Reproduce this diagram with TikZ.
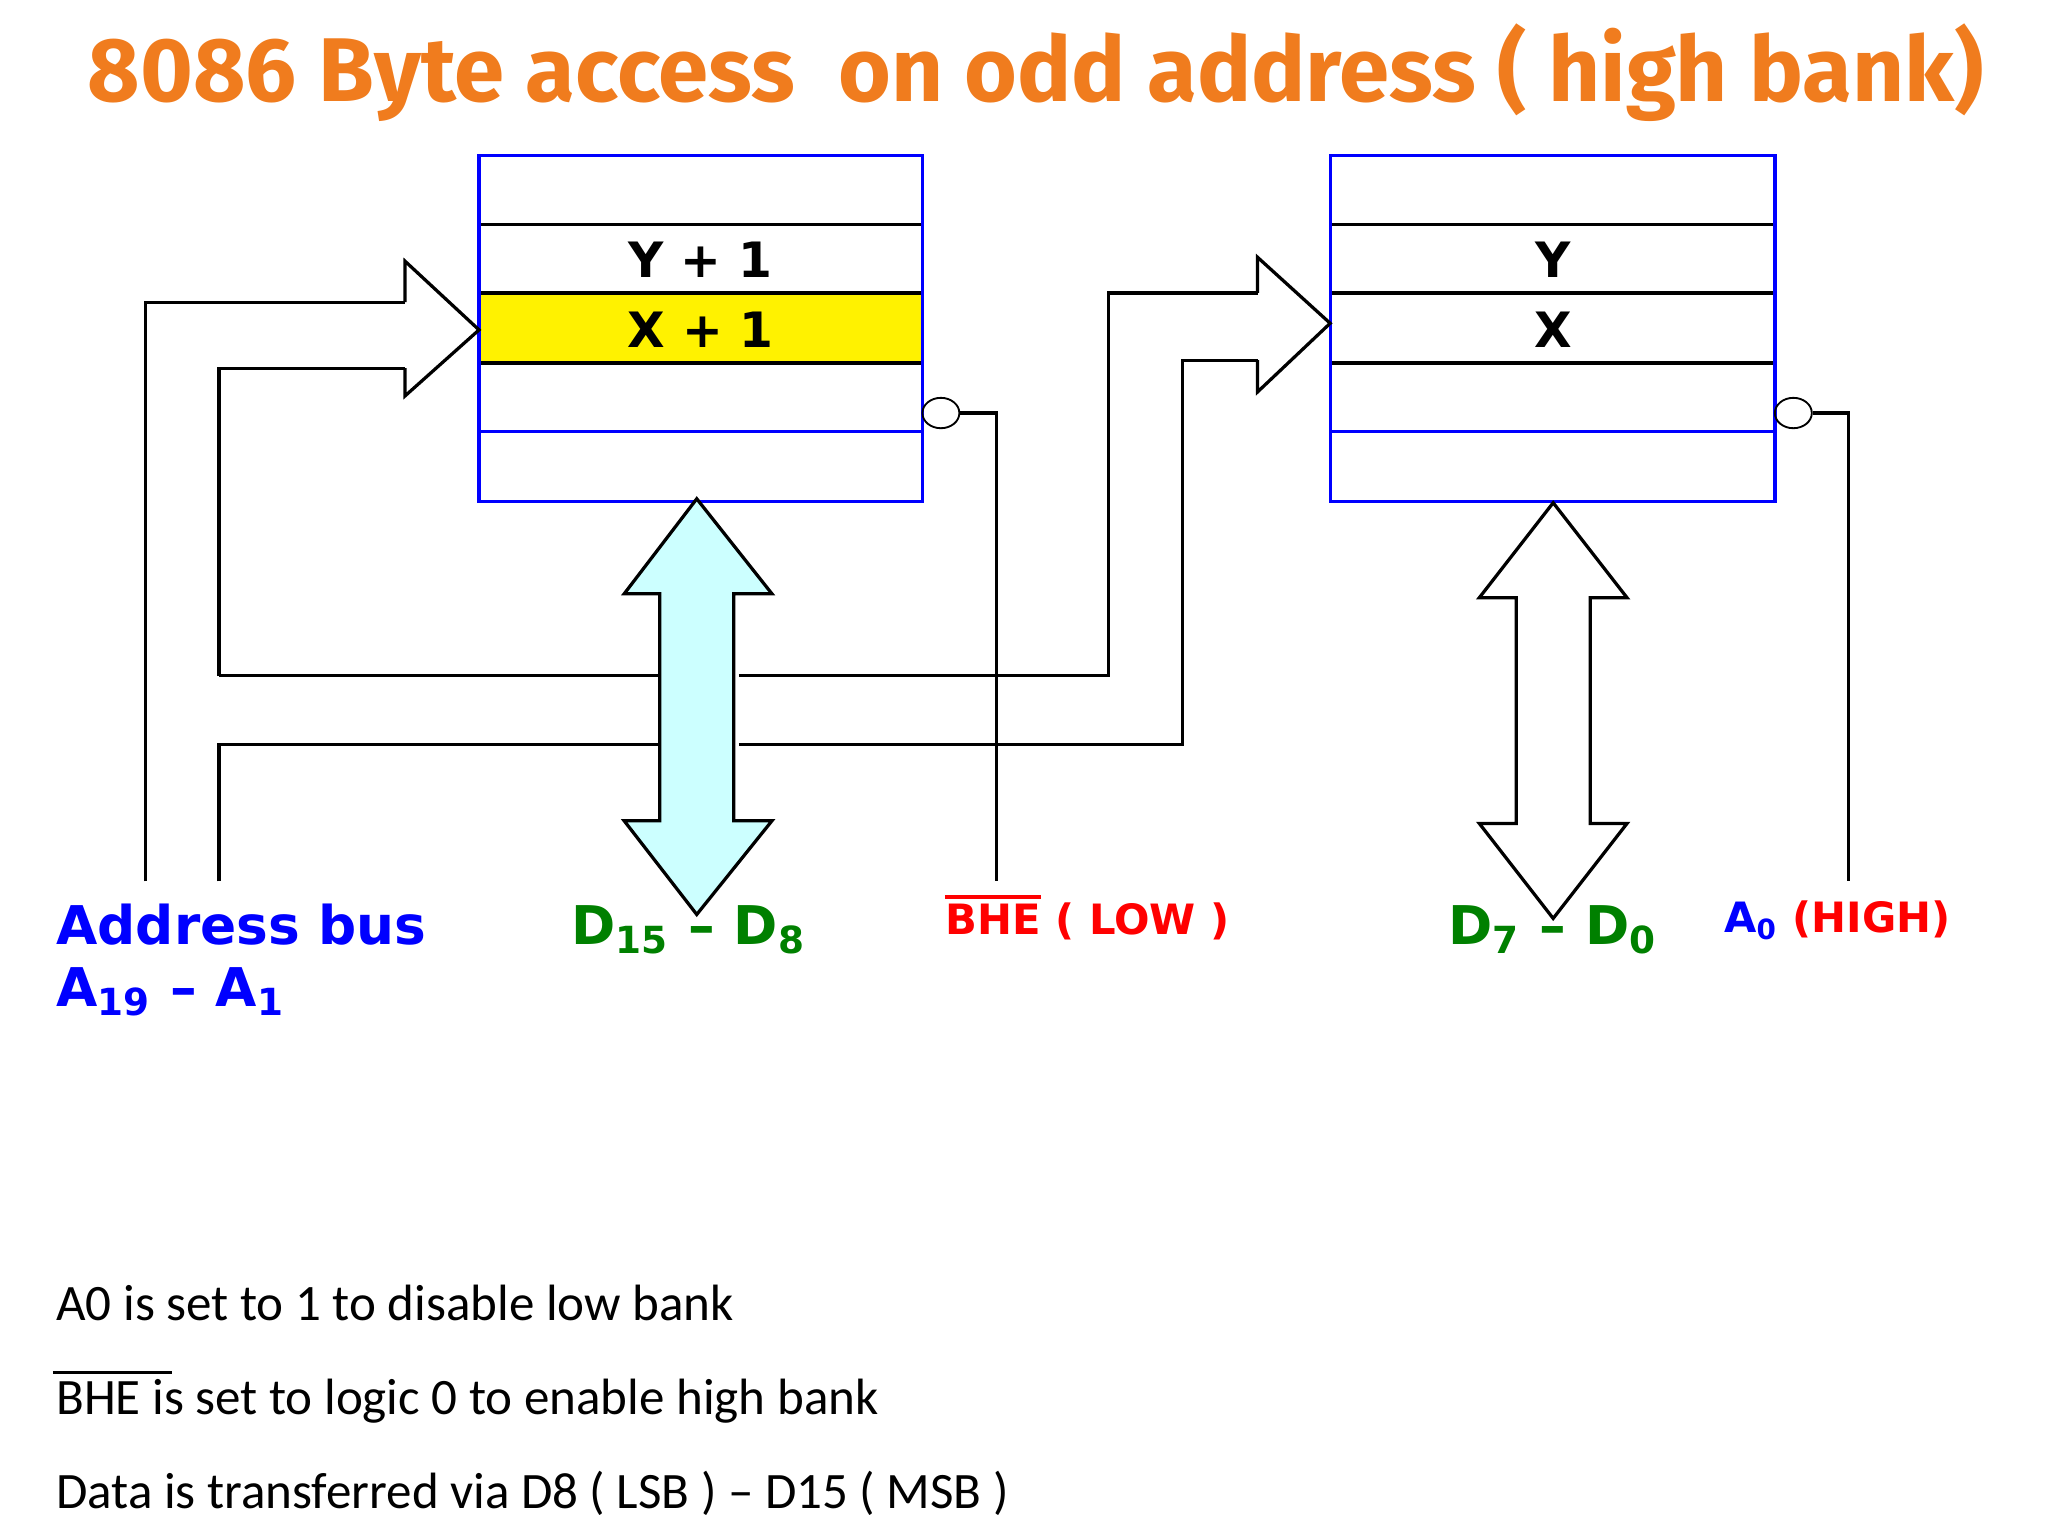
\documentclass[tikz,border=0pt]{standalone}
\usepackage{fontspec}
\setmainfont{Carlito}
\newfontfamily\lblfont{DejaVu Sans}
\newfontfamily\ttlfont{Fira Sans}
\usetikzlibrary{positioning,shapes.geometric}
\definecolor{ttlorange}{HTML}{F07C1E}
\definecolor{lblgreen}{HTML}{008000}
\definecolor{busblue}{HTML}{0000FF}
\definecolor{buscyan}{HTML}{CCFFFF}
\tikzset{
  wire/.style={black, line width=0.7pt},
  cell/.style={font=\lblfont\bfseries\fontsize{10.5}{12}\selectfont},
  lbl/.style={font=\lblfont\bfseries\fontsize{11.5}{14}\selectfont, anchor=base west, inner sep=0pt},
  note/.style={font=\fontsize{11}{13}\selectfont, anchor=base west, inner sep=0pt},
  bus/.style={draw=black, line width=0.7pt, line join=miter},
  sel/.style={draw, ellipse, minimum width=0.28cm, minimum height=0.23cm, inner sep=0pt},
}
\begin{document}
\begin{tikzpicture}[x=0.01cm,y=-0.01cm]
\useasboundingbox (0,0) rectangle (1552,1164);

%% title
\node[font=\ttlfont\bfseries\fontsize{19.5}{22}\selectfont, text=ttlorange] (title) at (785,55) {8086 Byte access \ on odd address ( high bank)};

%% left memory bank
\fill[yellow] (363,222) rectangle (699,275);
\draw[wire] (363,170) -- (699,170) (363,222) -- (699,222) (363,275) -- (699,275);
\draw[busblue, line width=0.7pt] (363,327) -- (699,327);
\draw[busblue, line width=0.7pt] (363,118) rectangle (699,380);
\node[cell] (y1) at (531,197) {Y + 1};
\node[cell] (x1) at (531,250) {X + 1};

%% right memory bank
\draw[wire] (1008,170) -- (1345,170) (1008,222) -- (1345,222) (1008,275) -- (1345,275);
\draw[busblue, line width=0.7pt] (1008,327) -- (1345,327);
\draw[busblue, line width=0.7pt] (1008,118) rectangle (1345,380);
\node[cell] (y0) at (1177,197) {Y};
\node[cell] (x0) at (1177,250) {X};

%% address arrows
\coordinate (la1) at (307,229);
\coordinate (la2) at (307,279);
\coordinate (ra1) at (953,222);
\coordinate (ra2) at (953,273);
\draw[wire] (la1) -- (307,198) -- (363,250) -- (307,300) -- (la2);
\draw[wire] (ra1) -- (953,195) -- (1008,245) -- (953,297) -- (ra2);

%% address wires
\coordinate (w1) at (110,668);
\coordinate (w2) at (166,668);
\draw[wire] (w1) |- (la1);
\draw[wire] (166,512) |- (la2);
\draw[wire] (166,512) -- (500,512);
\draw[wire] (560,512) -- (840,512) |- (ra1);
\draw[wire] (w2) |- (500,564);
\draw[wire] (560,564) -- (896,564) |- (ra2);

%% chip select
\node[sel] (bhe) at (713,313) {};
\node[sel] (azero) at (1359,313) {};
\coordinate (bheend) at (755,668);
\coordinate (a0end) at (1401,668);
\draw[wire] (bhe.east) -| (bheend);
\draw[wire] (azero.east) -| (a0end);

%% data buses
\draw[bus, fill=buscyan] (528,378) -- (585,450) -- (556,450) -- (556,622) -- (585,622) -- (528,693)
  -- (473,622) -- (500,622) -- (500,450) -- (473,450) -- cycle;
\draw[bus, fill=white] (1177,381) -- (1233,453) -- (1205,453) -- (1205,624) -- (1233,624) -- (1177,696)
  -- (1121,624) -- (1149,624) -- (1149,453) -- (1121,453) -- cycle;

%% labels
\node[lbl, text=busblue] (abus) at (42,716) {Address bus};
\node[lbl, text=busblue] (arange) at (42,763) {A\textsubscript{19} \textendash{} A\textsubscript{1}};
\node[lbl, text=lblgreen, anchor=base] (dhigh) at (522,716) {D\textsubscript{15} \textendash{} D\textsubscript{8}};
\node[lbl, text=lblgreen, anchor=base] (dlow) at (1177,716) {D\textsubscript{7} \textendash{} D\textsubscript{0}};
\node[lbl, text=red, font=\lblfont\bfseries\fontsize{9}{11}\selectfont] (bhelbl) at (716,708) {BHE ( LOW )};
\draw[red, line width=0.8pt] (716,680) -- (789,680);
\node[lbl, font=\lblfont\bfseries\fontsize{9}{11}\selectfont] (a0lbl) at (1306,707) {\textcolor{busblue}{A\textsubscript{0}} \textcolor{red}{(HIGH)}};

%% notes
\node[note] (n1) at (42,1001) {A0 is set to 1 to disable low bank};
\node[note] (n2) at (42,1072) {BHE is set to logic 0 to enable high bank};
\draw[black, line width=0.5pt] (40,1040) -- (130,1040);
\node[note] (n3) at (42,1143) {Data is transferred via D8 ( LSB ) \textendash{} D15 ( MSB )};
\end{tikzpicture}
\end{document}
